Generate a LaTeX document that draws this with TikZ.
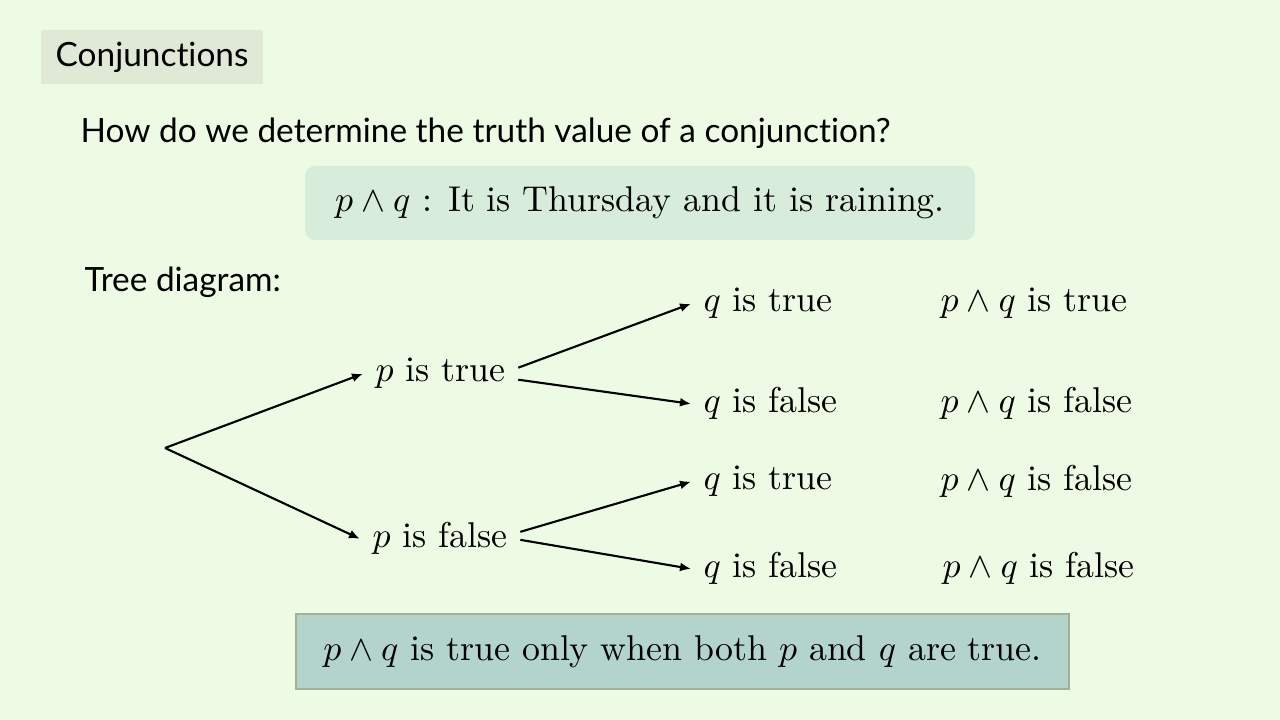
\documentclass[tikz,border=0pt]{standalone}
\usepackage{fix-cm}
\usepackage{fontspec}
\newfontfamily\slidesans[Ligatures=NoCommon]{Lato}
\usetikzlibrary{arrows.meta}

\definecolor{slidebg}{RGB}{238,251,228}
\definecolor{titlebg}{RGB}{224,233,214}
\definecolor{examplebg}{RGB}{215,236,218}
\definecolor{rulebg}{RGB}{178,212,203}
\definecolor{ruleborder}{RGB}{158,180,150}

\begin{document}
\begin{tikzpicture}[
  every node/.style={font=\fontsize{10.2}{12.3}\selectfont},
  branch/.style={-{Latex[length=1.1mm,width=0.9mm]}, semithick},
  leaf/.style={anchor=base west, inner xsep=0.12cm, inner ysep=0pt},
  slidetext/.style={anchor=base west, inner sep=0pt, font=\slidesans\fontsize{9.5}{11.5}\selectfont}
]
% 背景
\fill[slidebg] (0,0) rectangle (12.8,7.2);
\useasboundingbox (0,0) rectangle (12.8,7.2);

% 标题
\node[fill=titlebg, anchor=west, minimum height=0.54cm, inner xsep=0.15cm, font=\slidesans\fontsize{9.5}{11.5}\selectfont] (title) at (0.40,6.63) {Conjunctions};

% 问题
\node[slidetext] (question) at (0.80,5.77) {How do we determine the truth value of a conjunction?};

% 例子
\node[fill=examplebg, rounded corners=0.1cm, minimum width=6.70cm, minimum height=0.74cm] (example) at (6.40,5.17) {$p\wedge q$ : It is Thursday and it is raining.};

% 树形图
\node[slidetext] (treelabel) at (0.84,4.28) {Tree diagram:};
\coordinate (root) at (1.65,2.72);
\node[leaf] (ptrue) at (3.63,3.38) {$p$ is true};
\node[leaf] (pfalse) at (3.60,1.72) {$p$ is false};
\node[leaf] (qtt) at (6.91,4.08) {$q$ is true};
\node[leaf] (qtf) at (6.91,3.07) {$q$ is false};
\node[leaf] (qft) at (6.91,2.30) {$q$ is true};
\node[leaf] (qff) at (6.91,1.42) {$q$ is false};

% 结果
\node[leaf] (rtt) at (9.28,4.08) {$p\wedge q$ is true};
\node[leaf] (rtf) at (9.28,3.07) {$p\wedge q$ is false};
\node[leaf] (rft) at (9.28,2.29) {$p\wedge q$ is false};
\node[leaf] (rff) at (9.30,1.42) {$p\wedge q$ is false};

% 连接线
\draw[branch] (root) -- (ptrue.west);
\draw[branch] (root) -- (pfalse.west);
\draw[branch] ([yshift=0.06cm]ptrue.east) -- (qtt.west);
\draw[branch] ([yshift=-0.06cm]ptrue.east) -- (qtf.west);
\draw[branch] ([yshift=0.07cm]pfalse.east) -- (qft.west);
\draw[branch] ([yshift=-0.01cm]pfalse.east) -- (qff.west);

% 结论
\node[fill=rulebg, draw=ruleborder, minimum width=7.73cm, minimum height=0.75cm] (rule) at (6.825,0.685) {$p\wedge q$ is true only when both $p$ and $q$ are true.};
\end{tikzpicture}
\end{document}
